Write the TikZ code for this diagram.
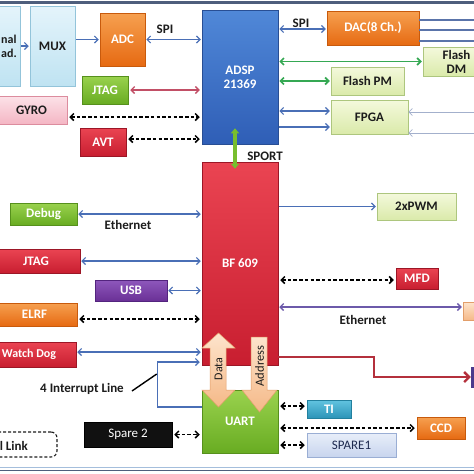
\documentclass[tikz,border=0pt]{standalone}
\usepackage{fontspec}
\setmainfont{Carlito}
\usetikzlibrary{arrows.meta,calc}
\definecolor{lbT}{HTML}{E4F4FB}\definecolor{lbB}{HTML}{BFE3F2}\definecolor{lbD}{HTML}{93C4DA}
\definecolor{orT}{HTML}{F6A050}\definecolor{orB}{HTML}{E66A12}\definecolor{orD}{HTML}{C85A0C}
\definecolor{buT}{HTML}{5088D8}\definecolor{buB}{HTML}{2F5EB6}\definecolor{buD}{HTML}{284E94}
\definecolor{grT}{HTML}{9AD24E}\definecolor{grB}{HTML}{68AC22}\definecolor{grD}{HTML}{56901C}
\definecolor{pkT}{HTML}{FCE2E8}\definecolor{pkB}{HTML}{F4B6C4}\definecolor{pkD}{HTML}{DC8C9E}
\definecolor{rdT}{HTML}{EA4452}\definecolor{rdB}{HTML}{C81E30}\definecolor{rdD}{HTML}{9C1626}
\definecolor{lgT}{HTML}{F4F9DC}\definecolor{lgB}{HTML}{DAEAAA}\definecolor{lgD}{HTML}{ADC67E}
\definecolor{puT}{HTML}{8E58BC}\definecolor{puB}{HTML}{6A3096}\definecolor{puD}{HTML}{53247E}
\definecolor{tlT}{HTML}{62C4E0}\definecolor{tlB}{HTML}{2C94B8}\definecolor{tlD}{HTML}{22809E}
\definecolor{lvT}{HTML}{E8EEF9}\definecolor{lvB}{HTML}{C8D5EE}\definecolor{lvD}{HTML}{9AAED4}
\definecolor{pcT}{HTML}{FDE4CC}\definecolor{pcB}{HTML}{F5B988}\definecolor{pcD}{HTML}{E29E6A}
\definecolor{txt}{HTML}{1C1C1C}\definecolor{navy}{HTML}{1E2A50}
\definecolor{abl}{HTML}{4A6FB6}\definecolor{agr}{HTML}{35A853}\definecolor{apu}{HTML}{6C5AAA}
\definecolor{ard}{HTML}{B4303C}\definecolor{ajt}{HTML}{C24F66}\definecolor{agy}{HTML}{A3B0CC}
\definecolor{frame}{HTML}{4E5E7C}\definecolor{framelt}{HTML}{A4BEDC}\definecolor{dacl}{HTML}{5A74AA}
\definecolor{sportg}{HTML}{78BE2E}\definecolor{blk}{HTML}{111111}\definecolor{pur2}{HTML}{4A3A8C}
\begin{document}
\begin{tikzpicture}[x=1pt,y=-1pt,
  >={Straight Barb[length=3.5pt,width=7pt]},
  box/.style={draw, line width=0.5pt, inner sep=1pt, align=center,
    font=\bfseries\fontsize{13}{14}\selectfont, text=white},
  cLB/.style={top color=lbT, bottom color=lbB, draw=lbD, text=txt},
  cOR/.style={top color=orT, bottom color=orB, draw=orD},
  cBU/.style={top color=buT, bottom color=buB, draw=buD},
  cGR/.style={top color=grT, bottom color=grB, draw=grD},
  cPK/.style={top color=pkT, bottom color=pkB, draw=pkD, text=txt},
  cRD/.style={top color=rdT, bottom color=rdB, draw=rdD},
  cLG/.style={top color=lgT, bottom color=lgB, draw=lgD, text=txt},
  cPU/.style={top color=puT, bottom color=puB, draw=puD},
  cTL/.style={top color=tlT, bottom color=tlB, draw=tlD},
  cLV/.style={top color=lvT, bottom color=lvB, draw=lvD, text=navy},
  cPC/.style={top color=pcT, bottom color=pcB, draw=pcD},
  cBK/.style={fill=blk, draw=black},
  lbl/.style={font=\bfseries\fontsize{13}{14}\selectfont, text=txt, inner sep=0},
  plainfont/.style={font=\fontsize{13}{14}\selectfont},
  barr/.style={draw=abl, line width=1.2pt, shorten <=1pt, shorten >=1pt},
  darr/.style={draw=black, line width=1.5pt, dash pattern=on 3.5pt off 2.2pt, shorten <=2pt, shorten >=2pt},
  garr/.style={draw=agr, line width=1.7pt, shorten <=1pt, shorten >=1pt},
  parr/.style={draw=apu, line width=1.3pt, shorten <=1pt, shorten >=1pt},
  jarr/.style={draw=ajt, line width=1.3pt, shorten <=2pt, shorten >=2pt},
  rarr/.style={draw=ard, line width=2.3pt, -{Straight Barb[length=5pt,width=10pt]}},
  gyarr/.style={draw=agy, line width=0.8pt, ->},
  dacline/.style={draw=dacl, line width=1.2pt},
  sportarr/.style={draw=sportg, line width=3.2pt, {Triangle[length=5pt,width=8pt]}-{Triangle[length=5pt,width=8pt]}},
  blockarr/.style={top color=pcT, bottom color=pcB, draw=pcD, line width=0.5pt}
]
\useasboundingbox (0,0) rectangle (474,474);
% frame lines
\coordinate (tl) at (0,2.5); \coordinate (tr) at (474,2.5);
\coordinate (bl1) at (0,467.5); \coordinate (br1) at (474,467.5);
\coordinate (bl2) at (0,470.5); \coordinate (br2) at (474,470.5);
\draw[frame, line width=2.5pt] (tl) -- (tr);
\draw[framelt, line width=1.2pt] (bl1) -- (br1);
\draw[frame, line width=1.8pt] (bl2) -- (br2);

% ---------- boxes ----------
\node[box,cLB,minimum width=60pt,minimum height=80pt] (sig) at (-10,46) {};
\node[lbl,anchor=west,align=left,font=\bfseries\fontsize{12}{14}\selectfont] (sigtxt) at (1,46) {nal\\ad.};
\node[box,cLB,minimum width=45pt,minimum height=80pt] (mux) at (52.5,46) {MUX};
\node[box,cOR,minimum width=45pt,minimum height=53pt] (adc) at (122.5,39.5) {ADC};
\node[box,cBU,minimum width=76pt,minimum height=134pt] (adsp) at (240,77) {ADSP\\21369};
\node[box,cOR,minimum width=92pt,minimum height=34pt] (dac) at (373,28) {DAC(8 Ch.)};
\node[box,cLG,minimum width=67pt,minimum height=29pt] (flashdm) at (456.5,61.5) {Flash\\DM};
\node[box,cLG,minimum width=73pt,minimum height=28pt] (flashpm) at (367.5,81) {Flash PM};
\node[box,cLG,minimum width=77pt,minimum height=34pt] (fpga) at (369.5,117) {FPGA};
\node[box,cGR,minimum width=46pt,minimum height=28pt] (jtaga) at (105,90) {JTAG};
\node[box,cPK,minimum width=71pt,minimum height=28pt] (gyro) at (31.5,110) {GYRO};
\node[box,cRD,minimum width=46pt,minimum height=28pt] (avt) at (103,142) {AVT};
\node[box,cRD,minimum width=76pt,minimum height=203pt] (bf) at (240,263.5) {BF 609};
\node[box,cGR,minimum width=67pt,minimum height=22pt] (debug) at (43.5,214) {Debug};
\node[box,cRD,minimum width=88pt,minimum height=24pt] (jtagb) at (36,261) {JTAG};
\node[box,cPU,minimum width=72pt,minimum height=21pt] (usb) at (131,290.5) {USB};
\node[box,cOR,minimum width=85pt,minimum height=23pt] (elrf) at (34.5,314.5) {ELRF};
\node[box,cRD,font=\bfseries\fontsize{12}{14}\selectfont,minimum width=94pt,minimum height=25pt] (wdog) at (29,354.5) {Watch Dog};
\node[box,cGR,minimum width=76pt,minimum height=63pt] (uart) at (240,421.5) {UART};
\node[box,cBK,plainfont,minimum width=88pt,minimum height=25pt] (spare2) at (128,434.5) {Spare 2};
\node[draw=txt,line width=1.1pt,dash pattern=on 3pt off 2pt,rounded corners=6pt,minimum width=77pt,minimum height=25pt] (linkbox) at (18.5,444.5) {};
\node[lbl,anchor=east] (linktxt) at (28,446) {l Link};
\node[box,cTL,minimum width=44pt,minimum height=18pt] (ti) at (329,409) {TI};
\node[box,cOR,minimum width=48pt,minimum height=22pt] (ccd) at (441,428) {CCD};
\node[box,cLV,plainfont,minimum width=89pt,minimum height=24pt] (spare1) at (351.5,445) {SPARE1};
\node[box,cLG,minimum width=79pt,minimum height=27pt] (pwm) at (416.5,206.5) {2xPWM};
\node[box,cRD,minimum width=42pt,minimum height=21pt] (mfd) at (417,278.5) {MFD};
\node[box,cPC,minimum width=27pt,minimum height=18pt] (rboxa) at (476.5,311) {};
\node[box,fill=pur2,draw=pur2,minimum width=24pt,minimum height=20pt] (rboxb) at (483,377) {};

% ---------- labels ----------
\node[lbl] (spia) at (165,29) {SPI};
\node[lbl] (spib) at (301,23.5) {SPI};
\node[lbl] (sport) at (265,156) {SPORT};
\node[lbl] (etha) at (128,225) {Ethernet};
\node[lbl] (ethb) at (363,320) {Ethernet};
\node[lbl] (intl) at (82,389) {4 Interrupt Line};

% ---------- ADSP connectors ----------
\draw[barr,->] (sig.east) -- (mux.west);
\draw[barr,->] (mux.east |- adc.west) -- (adc.west);
\draw[barr,<->] (adc.east) -- (adc.east -| adsp.west);
\draw[jarr,<->] (jtaga.east) -- (jtaga.east -| adsp.west);
\coordinate (gy) at ($(gyro.east)+(0,7)$);
\draw[darr,<->] (gy) -- (gy -| adsp.west);
\coordinate (av) at ($(avt.east)+(0,-3)$);
\draw[darr,<->] (av) -- (av -| adsp.west);
\coordinate (dc) at ($(dac.west)+(0,1)$);
\draw[barr,<->] (dc -| adsp.east) -- (dc);
\draw[garr,<->] (adsp.east |- flashdm.west) -- (flashdm.west);
\draw[garr,<->] (adsp.east |- flashpm.west) -- (flashpm.west);
\coordinate (fa) at ($(fpga.west)+(0,-6)$);
\coordinate (fb) at ($(fpga.west)+(0,10)$);
\draw[barr,<->] (fa -| adsp.east) -- (fa);
\draw[barr,->] (fb -| adsp.east) -- (fb);
\coordinate (ga) at (476,112);
\coordinate (gb) at (476,133);
\draw[gyarr] (ga) -- (ga -| fpga.east);
\draw[gyarr] (gb) -- (gb -| fpga.east);
\coordinate (da) at (476,20);
\coordinate (db) at (476,30);
\coordinate (dd) at (476,41);
\draw[dacline] (da -| dac.east) -- (da);
\draw[dacline] (db -| dac.east) -- (db);
\draw[dacline] (dd -| dac.east) -- (dd);
\draw[sportarr] ([xshift=-5pt,yshift=16pt]adsp.south) -- ([xshift=-5pt,yshift=-7pt]bf.north);

% ---------- BF 609 connectors ----------
\draw[barr,<->] (debug.east) -- (debug.east -| bf.west);
\draw[barr,<->] (jtagb.east) -- (jtagb.east -| bf.west);
\draw[barr,<->] (usb.east) -- (usb.east -| bf.west);
\coordinate (el) at ($(elrf.east)+(0,4.5)$);
\draw[darr,<->] (el) -- (el -| bf.west);
\coordinate (wd) at ($(wdog.east)+(0,-2.5)$);
\draw[barr,<->] (wd) -- (wd -| bf.west);
\coordinate (iu) at ($(uart.west)+(0,-14.5)$);
\coordinate (ib) at ($(bf.west)+(0,98.5)$);
\draw[draw=abl, line width=1.1pt, ->, shorten >=2pt] (iu) -- ++(-44,0) |- (ib);
\coordinate (ip) at ($(iu)+(-45,-33)$);
\draw[black, line width=1.4pt] ($(intl.east)+(8,2)$) -- (ip);
\draw[barr,->] (bf.east |- pwm.west) -- (pwm.west);
\coordinate (mf) at ($(mfd.west)+(0,1.5)$);
\draw[darr,<->] (mf -| bf.east) -- (mf);
\coordinate (ea) at ($(rboxa.west)+(0,-4)$);
\draw[parr,<->] (ea -| bf.east) -- (ea);
\coordinate (rb) at ($(bf.east)+(0,93.5)$);
\draw[rarr] (rb) -- ++(96,0) |- (rboxb.west);

% ---------- UART connectors ----------
\draw[darr,<->] (spare2.east) -- (spare2.east -| uart.west);
\coordinate (tia) at ($(ti.west)+(0,-3)$);
\draw[darr,<->] (tia -| uart.east) -- (tia);
\draw[darr,<->] (uart.east |- ccd.west) -- (ccd.west);
\draw[darr,<->] (uart.east |- spare1.west) -- (spare1.west);

% ---------- Data / Address block arrows ----------
\path[blockarr] (202,348) -- (218.5,333) -- (235,348) -- (226,348) -- (226,390)
  -- (235,390) -- (218.5,407) -- (202,390) -- (210,390) -- (210,348) -- cycle;
\path[blockarr] (251,337) -- (267,337) -- (267,390) -- (277,390) -- (259.5,412)
  -- (242,390) -- (251,390) -- cycle;
\node[rotate=90, font=\fontsize{12}{12}\selectfont, text=txt, inner sep=0] (datatxt) at (218.5,369) {Data};
\node[rotate=90, font=\fontsize{12.5}{12}\selectfont, text=txt, inner sep=0] (addrtxt) at (259.5,366) {Address};
\end{tikzpicture}
\end{document}
